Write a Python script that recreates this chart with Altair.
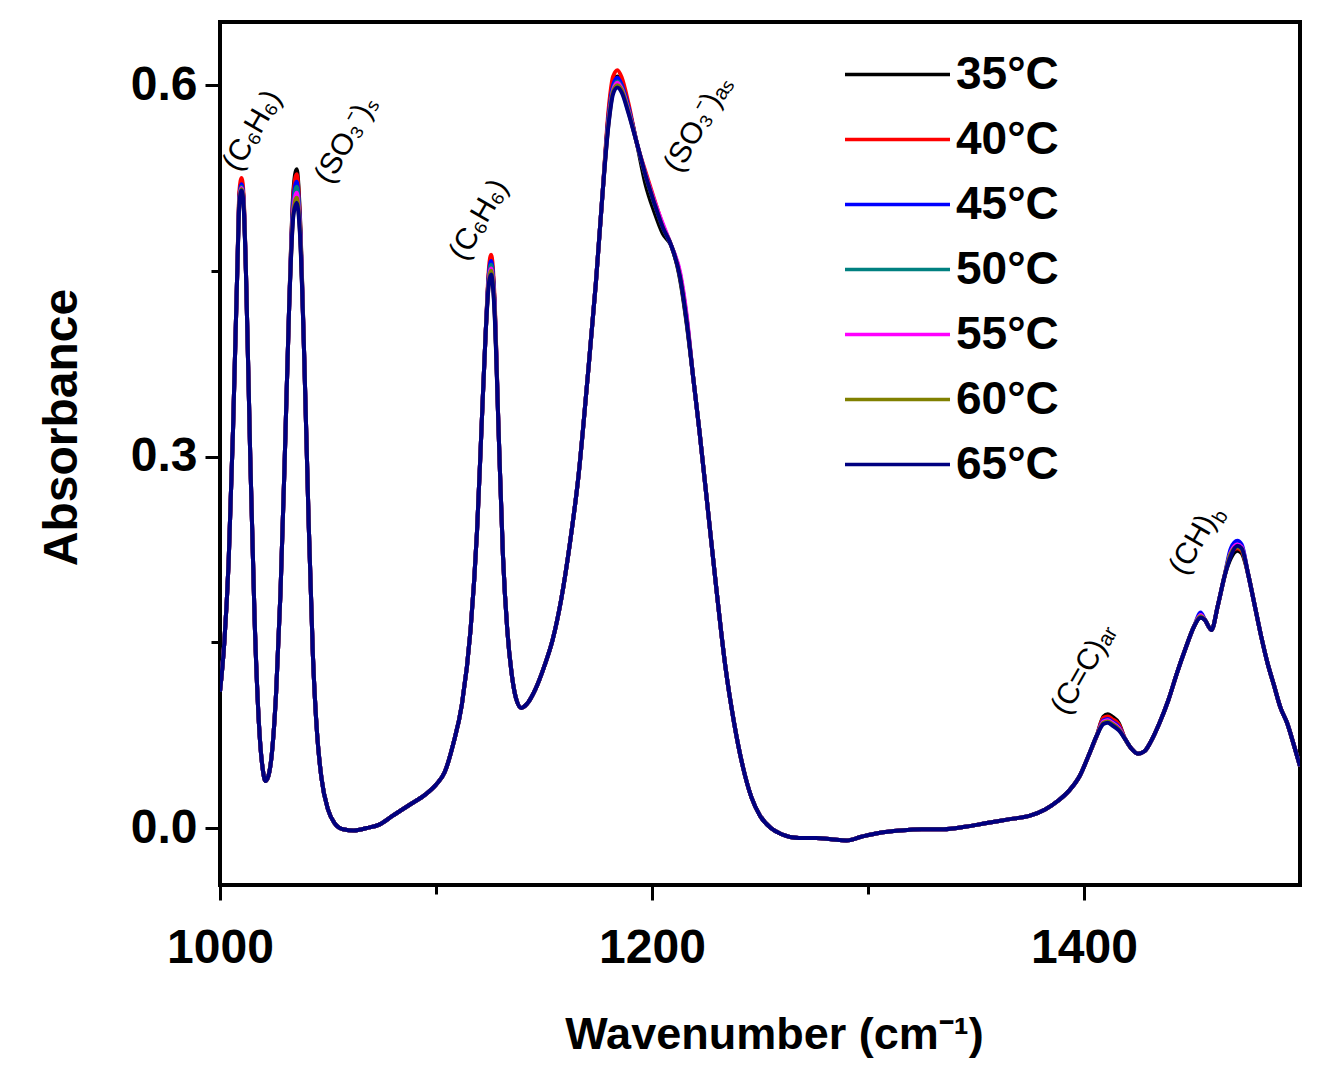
import altair as alt
import pandas as pd

# ---------------- data ----------------
temperatures = ["35°C", "40°C", "45°C", "50°C", "55°C", "60°C", "65°C"]
line_colors = ["#000000", "#FF0000", "#0000FF", "#008080", "#FF00FF", "#808000", "#000080"]

wavenumber = [
    1000, 1002, 1004, 1006, 1008, 1009, 1010, 1011, 1012, 1014, 1016, 1018, 1020, 1021, 1022,
    1024, 1026, 1028, 1030, 1032, 1034, 1035.5, 1037, 1039, 1041, 1043, 1045, 1047, 1050, 1053,
    1057, 1062, 1068, 1074, 1080, 1088, 1095, 1100, 1104, 1108, 1112, 1116, 1119, 1121, 1123,
    1124.5, 1125.5, 1127, 1129, 1131, 1133, 1135, 1137, 1139.5, 1142, 1146, 1150, 1154, 1158,
    1162, 1166, 1170, 1174, 1177, 1180, 1182, 1184, 1186, 1189, 1193, 1197, 1201, 1205, 1209,
    1213, 1216, 1219, 1222, 1226, 1230, 1234, 1238, 1242, 1246, 1250, 1255, 1260, 1268, 1276,
    1283, 1290, 1297, 1305, 1315, 1325, 1335, 1345, 1355, 1365, 1375, 1382, 1388, 1393, 1398,
    1402, 1406, 1409, 1411, 1413, 1416, 1419, 1422, 1425, 1428, 1431, 1435, 1439, 1443, 1447,
    1451, 1454, 1456, 1459, 1462, 1465, 1468, 1471, 1473, 1476, 1479, 1482, 1485, 1488, 1491,
    1494, 1497, 1500,
]

# common trace (65 °C, the curve drawn on top)
absorbance_65 = [
    0.110, 0.150, 0.215, 0.320, 0.450, 0.505, 0.515, 0.500, 0.450, 0.300, 0.170, 0.085, 0.045, 0.038, 0.040,
    0.060, 0.110, 0.190, 0.300, 0.420, 0.495, 0.505, 0.480, 0.380, 0.250, 0.140, 0.075, 0.040, 0.015, 0.004,
    -0.001, -0.002, 0.000, 0.003, 0.010, 0.019, 0.027, 0.035, 0.045, 0.068, 0.100, 0.160, 0.240, 0.320, 0.400,
    0.440, 0.447, 0.420, 0.320, 0.220, 0.160, 0.125, 0.105, 0.097, 0.100, 0.112, 0.130, 0.152, 0.185,
    0.230, 0.285, 0.360, 0.440, 0.510, 0.570, 0.593, 0.598, 0.594, 0.578, 0.553, 0.527, 0.505, 0.485, 0.470,
    0.445, 0.410, 0.365, 0.320, 0.255, 0.190, 0.130, 0.085, 0.050, 0.025, 0.010, 0.000, -0.005, -0.008, -0.008,
    -0.009, -0.010, -0.007, -0.004, -0.002, -0.001, -0.001, 0.001, 0.004, 0.007, 0.010, 0.015, 0.022, 0.030, 0.042,
    0.058, 0.075, 0.084, 0.085, 0.083, 0.079, 0.072, 0.064, 0.060, 0.062, 0.070, 0.085, 0.103, 0.125, 0.145,
    0.163, 0.170, 0.168, 0.160, 0.180, 0.203, 0.220, 0.228, 0.226, 0.205, 0.180, 0.155, 0.133, 0.115, 0.097,
    0.085, 0.068, 0.050,
]

# readings where the temperatures separate (peak tops)
peak_wavenumber = [1009, 1010, 1011, 1034, 1035.5, 1037, 1124.5, 1125.5, 1127,
                   1180, 1182, 1184, 1186, 1189, 1197, 1201, 1205, 1213, 1216,
                   1409, 1411, 1413, 1416, 1454, 1468, 1471, 1473]
peak_readings = {
    "35°C": [0.512, 0.520, 0.505, 0.515, 0.532, 0.495, 0.448, 0.458, 0.428,
             0.578, 0.603, 0.607, 0.602, 0.583, 0.520, 0.498, 0.480, 0.443, 0.408,
             0.090, 0.092, 0.090, 0.085, 0.170, 0.218, 0.224, 0.222],
    "40°C": [0.515, 0.525, 0.508, 0.512, 0.528, 0.492, 0.452, 0.463, 0.432,
             0.582, 0.607, 0.612, 0.606, 0.586, 0.530, 0.508, 0.487, 0.446, 0.412,
             0.089, 0.090, 0.088, 0.084, 0.172, 0.222, 0.226, 0.224],
    "45°C": [0.510, 0.520, 0.504, 0.508, 0.522, 0.489, 0.448, 0.458, 0.428,
             0.577, 0.600, 0.606, 0.600, 0.583, 0.528, 0.506, 0.486, 0.447, 0.412,
             0.087, 0.088, 0.086, 0.082, 0.174, 0.226, 0.232, 0.229],
    "50°C": [0.508, 0.518, 0.502, 0.503, 0.518, 0.486, 0.445, 0.455, 0.425,
             0.574, 0.597, 0.603, 0.598, 0.581, 0.527, 0.505, 0.486, 0.447, 0.413,
             0.086, 0.087, 0.085, 0.081, 0.172, 0.223, 0.229, 0.227],
    "55°C": [0.507, 0.517, 0.502, 0.500, 0.513, 0.484, 0.443, 0.452, 0.424,
             0.572, 0.596, 0.602, 0.597, 0.580, 0.528, 0.507, 0.488, 0.449, 0.415,
             0.086, 0.087, 0.085, 0.081, 0.172, 0.223, 0.229, 0.227],
    "60°C": [0.506, 0.516, 0.501, 0.497, 0.509, 0.482, 0.441, 0.450, 0.422,
             0.571, 0.595, 0.600, 0.596, 0.579, 0.527, 0.505, 0.485, 0.445, 0.410,
             0.085, 0.086, 0.084, 0.080, 0.171, 0.222, 0.227, 0.225],
}

# band labels
label_wn = [1008.5, 1051.0, 1113.3, 1212.7, 1392.0, 1446.7]
label_abs = [0.529, 0.519, 0.457, 0.528, 0.090, 0.203]
label_text = ["(C₆H₆)", "(SO₃⁻)ₛ", "(C₆H₆)", "(SO₃⁻)ₐₛ", "(C=C)ₐᵣ", "(CH)"]
sub_wn = [1446.7]
sub_abs = [0.203]
sub_text = ["b"]

# ---------------- build table ----------------
rows = []
for t in temperatures:
    override = dict(zip(peak_wavenumber, peak_readings.get(t, [])))
    for w, a in zip(wavenumber, absorbance_65):
        rows.append({"wn": w, "A": override.get(w, a), "temp": t})
df = pd.DataFrame(rows)

labels_df = pd.DataFrame({"wn": label_wn, "A": label_abs, "text": label_text})
sub_df = pd.DataFrame({"wn": sub_wn, "A": sub_abs, "text": sub_text})

FONT = "Liberation Sans"
x_scale = alt.Scale(domain=[1000, 1500], nice=False, zero=False)
y_scale = alt.Scale(domain=[-0.046, 0.651], nice=False, zero=False)

major_x = "datum.value % 200 == 0"
major_y = "abs(datum.value) < 0.001 || abs(datum.value - 0.3) < 0.001 || abs(datum.value - 0.6) < 0.001"

x_axis = alt.Axis(
    values=[1000, 1100, 1200, 1300, 1400],
    labelExpr=f"{major_x} ? format(datum.value, 'd') : ''",
    tickSize={"condition": {"test": major_x, "value": 15}, "value": 9},
    tickWidth=3, tickColor="black", domain=False, grid=False,
    labelFont=FONT, labelFontSize=48, labelFontWeight="bold", labelColor="black",
    labelPadding=24, labelFlush=False, labelOverlap=False,
    title="Wavenumber (cm⁻¹)", titleFont=FONT, titleFontSize=45, titleFontWeight="bold",
    titleColor="black", titleX=554, titleY=163, titleBaseline="alphabetic", titleAlign="center",
)
y_axis = alt.Axis(
    values=[0, 0.15, 0.3, 0.45, 0.6],
    labelExpr=f"({major_y}) ? format(datum.value, '.1f') : ''",
    tickSize={"condition": {"test": major_y, "value": 15}, "value": 9},
    tickWidth=3, tickColor="black", domain=False, grid=False,
    labelFont=FONT, labelFontSize=48, labelFontWeight="bold", labelColor="black",
    labelPadding=8, labelFlush=False, labelOverlap=False,
    title="Absorbance", titleFont=FONT, titleFontSize=48, titleFontWeight="bold",
    titleColor="black", titleX=-158, titleY=405, titleAngle=270,
    titleAlign="center", titleBaseline="middle",
)

lines = alt.Chart(df).mark_line(strokeWidth=4, clip=True, interpolate="monotone").encode(
    x=alt.X("wn:Q", scale=x_scale, axis=x_axis),
    y=alt.Y("A:Q", scale=y_scale, axis=y_axis),
    color=alt.Color(
        "temp:N",
        scale=alt.Scale(domain=temperatures, range=line_colors),
        sort=temperatures,
        legend=alt.Legend(
            title=None, orient="none", legendX=623, legendY=20, padding=0,
            symbolType="stroke", symbolSize=11025, symbolStrokeWidth=3.5,
            clipHeight=65, labelOffset=4, rowPadding=0,
            labelFont=FONT, labelFontSize=46, labelFontWeight="bold", labelColor="black",
            labelLimit=400,
        ),
    ),
    order=alt.Order("wn:Q"),
)

labels = alt.Chart(labels_df).mark_text(
    angle=300, align="left", baseline="alphabetic", font=FONT, fontSize=30, color="black"
).encode(
    x=alt.X("wn:Q", scale=x_scale),
    y=alt.Y("A:Q", scale=y_scale),
    text="text:N",
)

sub = alt.Chart(sub_df).mark_text(
    angle=300, align="left", baseline="alphabetic", font=FONT, fontSize=20, color="black",
    dx=64, dy=7,
).encode(
    x=alt.X("wn:Q", scale=x_scale),
    y=alt.Y("A:Q", scale=y_scale),
    text="text:N",
)

chart = alt.layer(lines, labels, sub).properties(
    width=1080, height=863,
    autosize=alt.AutoSizeParams(type="none"),
    padding={"left": 220, "top": 22, "right": 17, "bottom": 191},
    background="white",
).configure_view(stroke="black", strokeWidth=4)

chart.save("out.html", embed_options={"renderer": "svg", "actions": False})
